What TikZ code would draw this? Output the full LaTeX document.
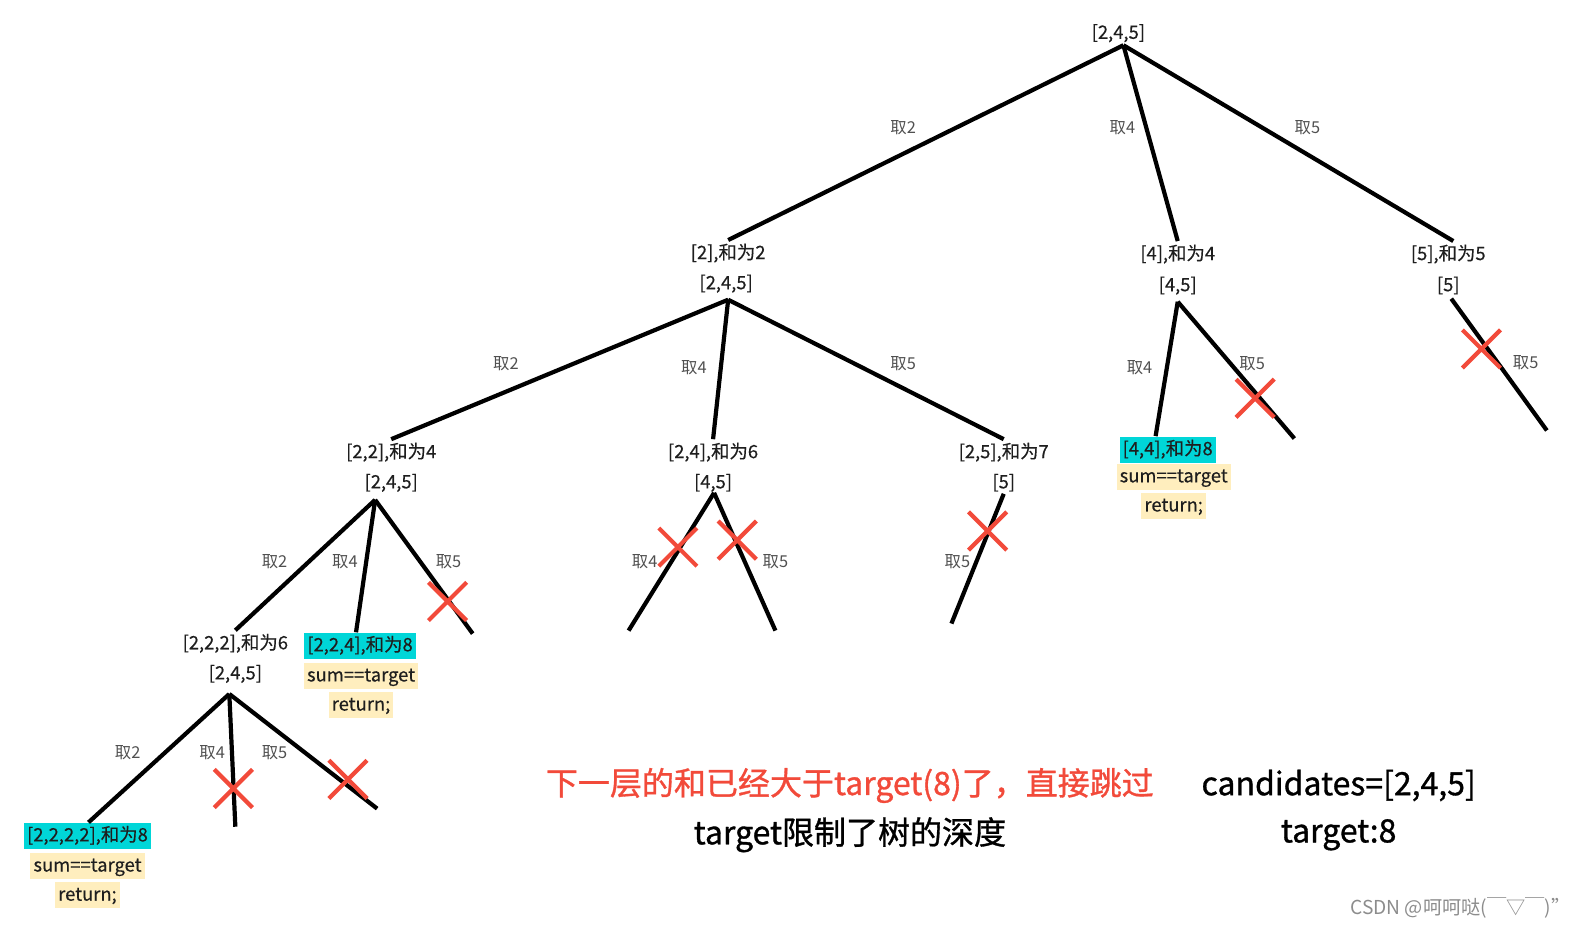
\documentclass[tikz,border=0pt]{standalone}
\usepackage{fontspec}
\setmainfont{Noto Sans CJK SC}
\newfontfamily\medfont[FakeBold=0.35]{Noto Sans CJK SC}
\newfontfamily\bigfont[FakeBold=1.0]{Noto Sans CJK SC}
\usetikzlibrary{shapes.misc,calc}
\definecolor{hitcyan}{RGB}{0,214,216}
\definecolor{okyellow}{RGB}{255,238,190}
\definecolor{xred}{RGB}{242,74,58}
\definecolor{txt}{RGB}{30,30,30}
\definecolor{elg}{RGB}{80,80,80}
\begin{document}
\begin{tikzpicture}[x=0.50285pt,y=-0.50285pt,
  br/.style={line width=2.1pt, black},
  lbl/.style={font=\medfont\fontsize{9.2}{11}\selectfont, text=txt, inner xsep=1.5pt, inner ysep=1.9pt, text height=7.4pt, text depth=1.8pt},
  el/.style={font=\fontsize{8.2}{9}\selectfont, text=elg, inner sep=0pt},
  hit/.style={lbl, fill=hitcyan},
  ok/.style={lbl, fill=okyellow},
  xmark/.style={cross out, draw=xred, line width=2.1pt, minimum size=17pt, inner sep=0pt},
  big/.style={font=\bigfont\fontsize{16}{19}\selectfont, text=black, inner sep=0pt}
]
\useasboundingbox (0,0) rectangle (1568,923);

% ---- nodes ----
\node[lbl] (r) at (1112,33) {[2,4,5]};
\coordinate (r0) at (1117,45);

\node[lbl] (n2a) at (724,252) {[2],和为2};
\node[lbl] (n2b) at (722,282) {[2,4,5]};
\coordinate (c2) at (724,298);

\node[lbl] (n4a) at (1171,253) {[4],和为4};
\node[lbl] (n4b) at (1171,284) {[4,5]};
\coordinate (c4) at (1171,300);

\node[lbl] (n5a) at (1440,253) {[5],和为5};
\node[lbl] (n5b) at (1440,284) {[5]};
\coordinate (c5) at (1443,297);

\node[lbl] (n22a) at (389,450) {[2,2],和为4};
\node[lbl] (n22b) at (389,480) {[2,4,5]};
\coordinate (c22) at (373,497);

\node[lbl] (n24a) at (709,450) {[2,4],和为6};
\node[lbl] (n24b) at (709,480) {[4,5]};
\coordinate (c24) at (710,490);

\node[lbl] (n25a) at (998,450) {[2,5],和为7};
\node[lbl] (n25b) at (998,480) {[5]};
\coordinate (c25) at (998,491);

\node[hit] (n44a) at (1161,447) {[4,4],和为8};
\node[ok] (n44b) at (1167,474) {sum==target};
\node[ok] (n44c) at (1167,503) {return;};

\node[lbl] (n222a) at (234,640) {[2,2,2],和为6};
\node[lbl] (n222b) at (234,670) {[2,4,5]};
\coordinate (c222) at (228,690);

\node[hit] (n224a) at (358,642) {[2,2,4],和为8};
\node[ok] (n224b) at (359,672) {sum==target};
\node[ok] (n224c) at (359,701) {return;};

\node[hit] (n2222a) at (87,831) {[2,2,2,2],和为8};
\node[ok] (n2222b) at (87,861) {sum==target};
\node[ok] (n2222c) at (87,890) {return;};

% free ends
\coordinate (e45) at (1287,436);
\coordinate (e55) at (1538,428);
\coordinate (e225) at (470,630);
\coordinate (e244) at (625,627);
\coordinate (e245) at (771,627);
\coordinate (e255) at (946,620);
\coordinate (e2224) at (234,822);
\coordinate (e2225) at (375,804);

% ---- branches ----
\draw[br] (r0) -- (n2a.north);
\draw[br] (r0) -- (n4a.north);
\draw[br] (r0) -- ($(n5a.north)+(5,0)$);

\draw[br] (c2) -- (n22a.north);
\draw[br] (c2) -- (n24a.north);
\draw[br] (c2) -- (n25a.north);

\draw[br] (c4) -- ($(n44a.north)+(-12,0)$);
\draw[br] (c4) -- (e45);
\draw[br] (c5) -- (e55);

\draw[br] (c22) -- (n222a.north);
\draw[br] (c22) -- ($(n224a.north)+(-4,0)$);
\draw[br] (c22) -- (e225);

\draw[br] (c24) -- (e244);
\draw[br] (c24) -- (e245);
\draw[br] (c25) -- (e255);

\draw[br] (c222) -- ($(n2222a.north)+(1,0)$);
\draw[br] (c222) -- (e2224);
\draw[br] (c222) -- (e2225);

% ---- edge labels ----
\node[el] (l1) at (898,127) {取2};
\node[el] (l2) at (1116,127) {取4};
\node[el] (l3) at (1300,127) {取5};
\node[el] (l4) at (503,362) {取2};
\node[el] (l5) at (690,366) {取4};
\node[el] (l6) at (898,362) {取5};
\node[el] (l7) at (1133,366) {取4};
\node[el] (l8) at (1245,362) {取5};
\node[el] (l9) at (1517,361) {取5};
\node[el] (l10) at (273,558) {取2};
\node[el] (l11) at (343,558) {取4};
\node[el] (l12) at (446,558) {取5};
\node[el] (l13) at (641,558) {取4};
\node[el] (l14) at (771,558) {取5};
\node[el] (l15) at (952,558) {取5};
\node[el] (l16) at (127,748) {取2};
\node[el] (l17) at (211,748) {取4};
\node[el] (l18) at (273,748) {取5};

% ---- crosses ----
\node[xmark] (x45) at (1248,396) {};
\node[xmark] (x55) at (1473,347) {};
\node[xmark] (x225) at (445,598) {};
\node[xmark] (x244) at (674,544) {};
\node[xmark] (x245) at (733,537) {};
\node[xmark] (x255) at (982,528) {};
\node[xmark] (x2224) at (232,784) {};
\node[xmark] (x2225) at (346,775) {};

% ---- notes ----
\node[big, text=xred] (note1) at (845,781) {下一层的和已经大于target(8)了，直接跳过};
\node[big] (note2) at (845,830) {target限制了树的深度};
\node[big] (cand) at (1331,781) {candidates=[2,4,5]};
\node[big] (tgt) at (1331,830) {target:8};
\node[font=\fontsize{9.6}{11}\selectfont, text=black!45, inner sep=0pt] (wm) at (1452,903) {CSDN @呵呵哒(￣▽￣)"};
\end{tikzpicture}
\end{document}
